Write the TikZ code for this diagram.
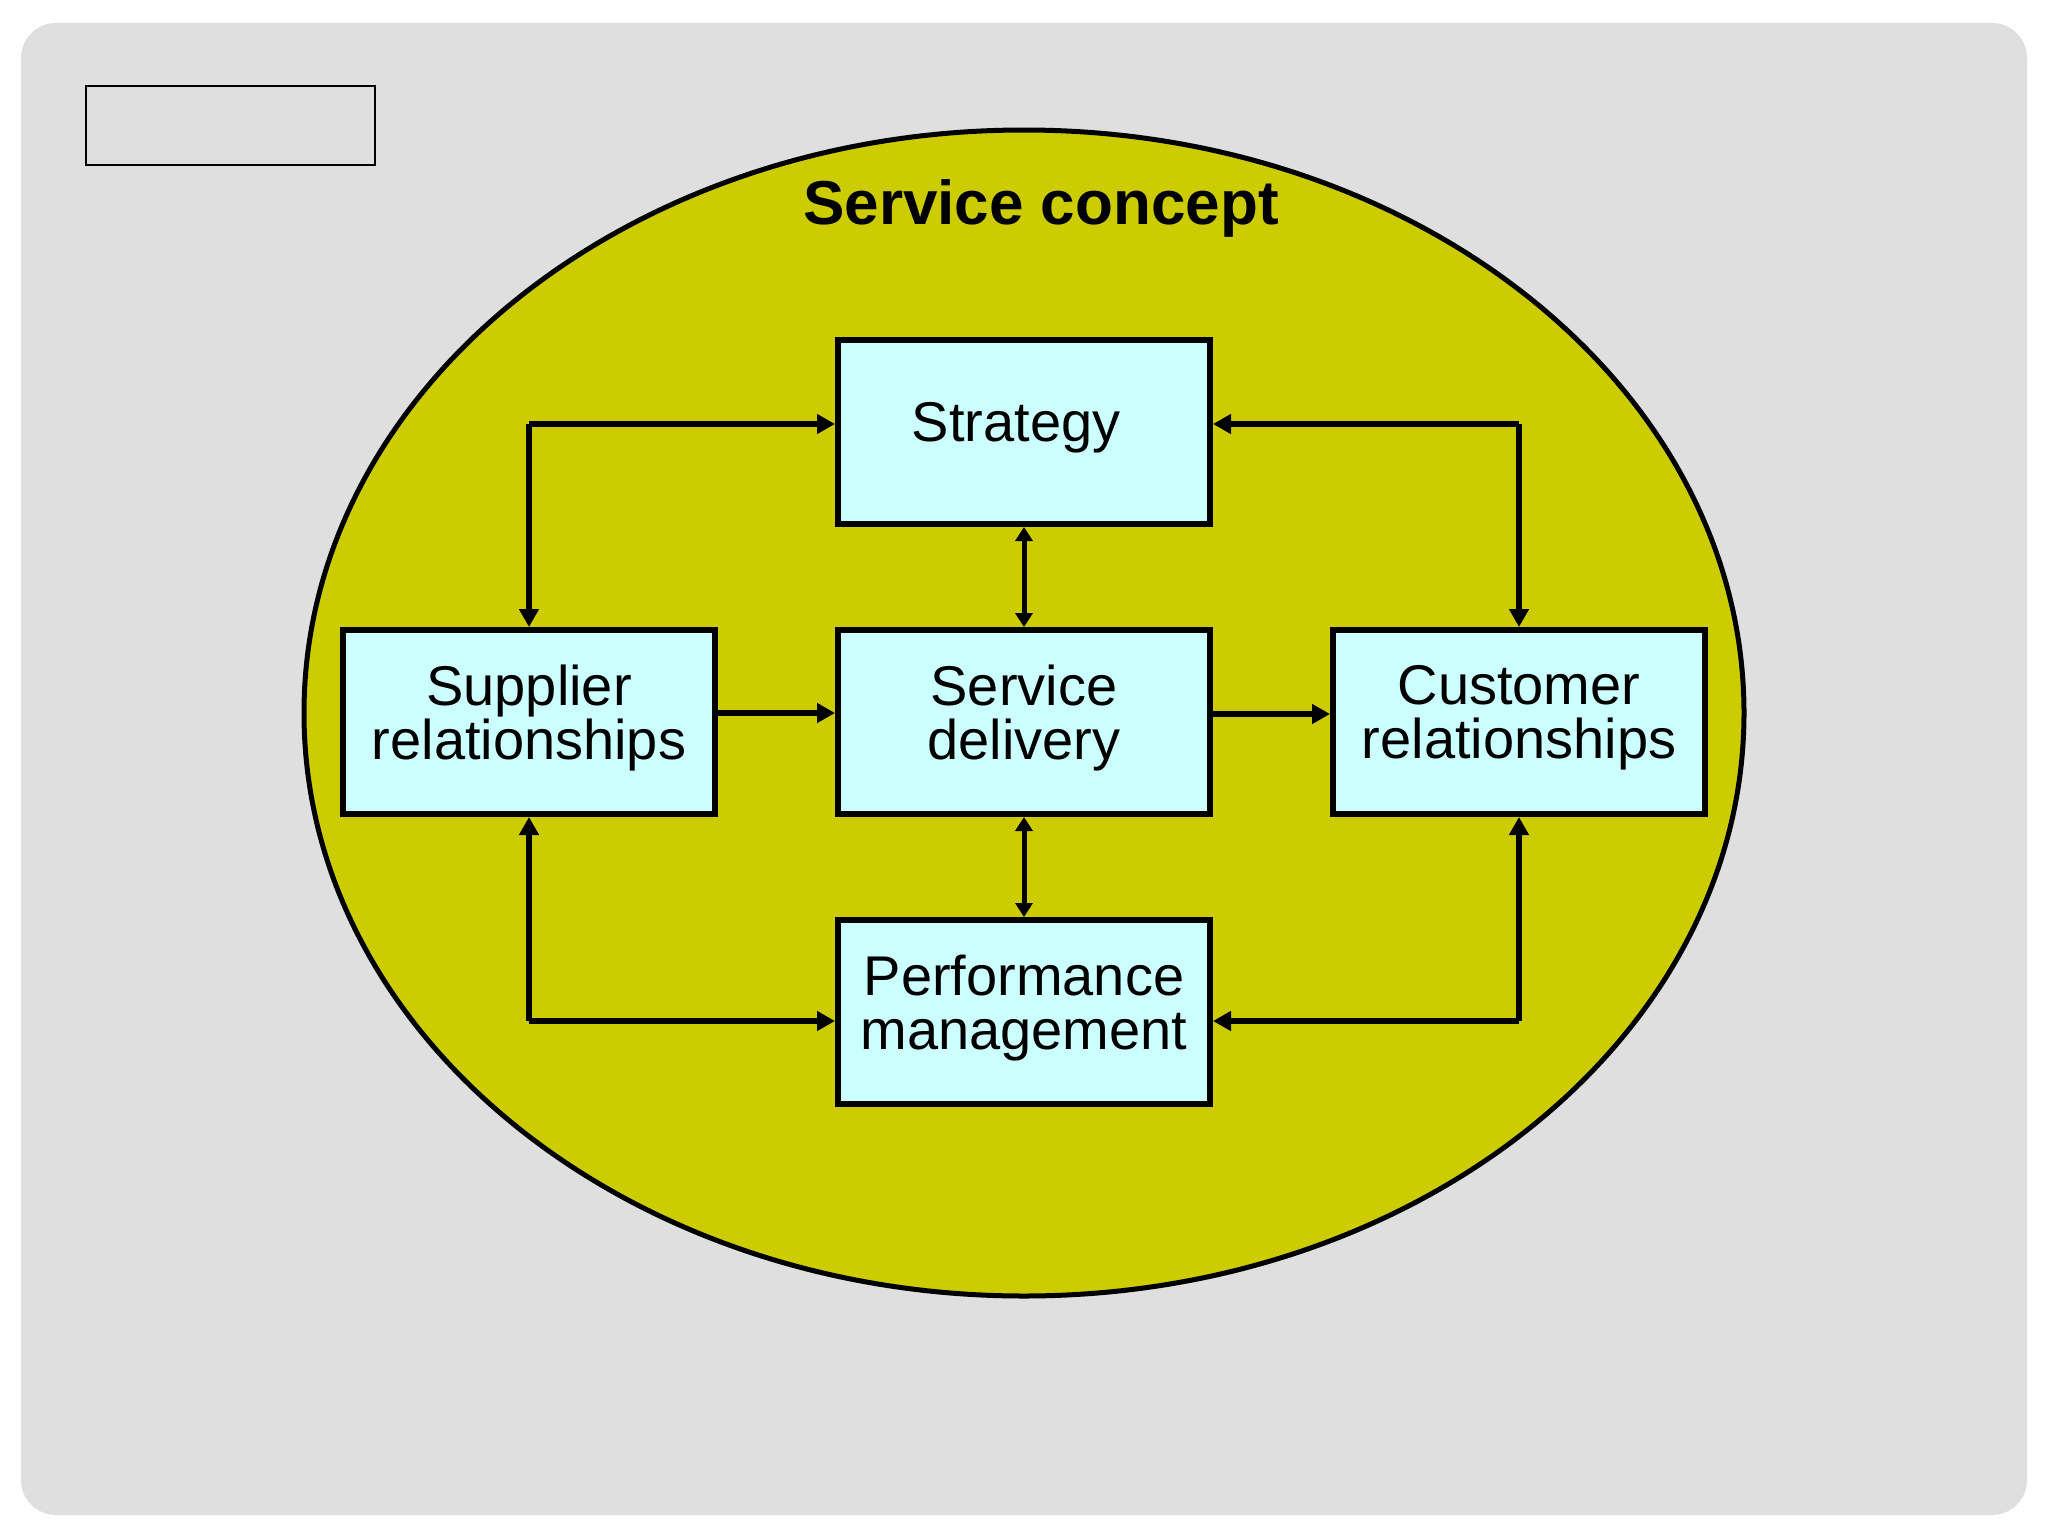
\documentclass[tikz,border=0pt]{standalone}
\usepackage{fontspec}
\setmainfont{Liberation Sans}
\usetikzlibrary{arrows.meta}
\definecolor{bggray}{HTML}{E0DFE0}
\definecolor{olivefill}{HTML}{CCCC00}
\definecolor{cyanbox}{HTML}{CCFFFF}
\tikzset{
  box/.style={draw, line width=6pt, fill=cyanbox, minimum width=372pt, minimum height=184pt, inner sep=0pt},
  lbl/.style={font=\fontsize{56}{54}\selectfont, align=center, inner sep=0pt},
  arr/.style={line width=6pt, -{Triangle[length=18pt,width=19pt]}},
  darr/.style={line width=5pt, {Triangle[length=14pt,width=17pt]}-{Triangle[length=14pt,width=17pt]}}
}
\begin{document}
\begin{tikzpicture}[x=1pt,y=-1pt]
\useasboundingbox (0,0) rectangle (2048,1536);
\fill[white] (0,0) rectangle (2048,1536);
\fill[bggray, rounded corners=35pt] (21,23) rectangle (2027,1515);
\node[draw, line width=2.5pt, minimum width=289pt, minimum height=79pt, inner sep=0pt] (tag) at (230.5,125.5) {};
\draw[line width=5pt, fill=olivefill] (1024,713) ellipse [x radius=720, y radius=583];
\node[font=\bfseries\fontsize{62}{62}\selectfont, inner sep=0pt] (title) at (1041,208) {Service concept};
\node[box] (st) at (1024,432) {};
\node[box] (sd) at (1024,722) {};
\node[box] (sup) at (529,722) {};
\node[box] (cus) at (1519,722) {};
\node[box] (pm) at (1024,1012) {};
\node[lbl] (stt) at ([xshift=-8pt,yshift=4pt]st.center) {Strategy};
\node[lbl] (sdt) at ([yshift=4pt]sd.center) {Service\\delivery};
\node[lbl] (supt) at ([yshift=4pt]sup.center) {Supplier\\relationships};
\node[lbl] (cust) at ([yshift=4pt]cus.center) {Customer\\relationships};
\node[lbl] (pmt) at ([yshift=4pt]pm.center) {Performance\\management};
\coordinate (tl) at (529,424);
\coordinate (tr) at (1519,424);
\coordinate (bl) at (529,1021);
\coordinate (br) at (1519,1021);
\draw[arr] (tl) -- (tl -| st.west);
\draw[arr] (tl) -- (tl |- sup.north);
\draw[arr] (tr) -- (tr -| st.east);
\draw[arr] (tr) -- (tr |- cus.north);
\draw[arr] (bl) -- (bl -| pm.west);
\draw[arr] (bl) -- (bl |- sup.south);
\draw[arr] (br) -- (br -| pm.east);
\draw[arr] (br) -- (br |- cus.south);
\draw[arr] ([yshift=9pt]sup.east) -- ([yshift=9pt]sd.west);
\draw[arr] ([yshift=8pt]sd.east) -- ([yshift=8pt]cus.west);
\draw[darr] (st.south) -- (sd.north);
\draw[darr] (sd.south) -- (pm.north);
\end{tikzpicture}
\end{document}
